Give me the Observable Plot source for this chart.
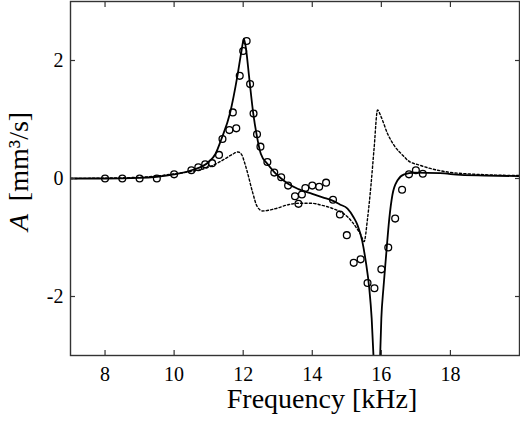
<!DOCTYPE html>
<html>
<head>
<meta charset="utf-8">
<script src="https://cdn.jsdelivr.net/npm/d3@7"></script>
<script src="https://cdn.jsdelivr.net/npm/@observablehq/plot@0.6"></script>
<style>
  html, body { margin: 0; padding: 0; background: #fff; }
</style>
</head>
<body>
<div id="chart"></div>
<script>
// Measured points (circles)
const measFreq = [8.0, 8.5, 9.0, 9.5, 10.0, 10.5, 10.7, 10.9, 11.1, 11.3, 11.4, 11.6, 11.7, 11.8, 11.9, 12.0, 12.1, 12.2, 12.3, 12.4, 12.5, 12.7, 12.9, 13.1, 13.3, 13.5, 13.6, 13.7, 13.8, 14.0, 14.2, 14.4, 14.6, 14.8, 15.0, 15.2, 15.4, 15.6, 15.8, 16.0, 16.2, 16.4, 16.6, 16.8, 17.0, 17.2];
const measA    = [0.0, 0.0, 0.0, 0.0, 0.07, 0.14, 0.19, 0.24, 0.26, 0.40, 0.67, 0.82, 1.12, 0.85, 1.74, 2.16, 2.33, 1.60, 1.10, 0.75, 0.54, 0.28, 0.10, 0.02, -0.12, -0.30, -0.43, -0.27, -0.16, -0.12, -0.14, -0.07, -0.36, -0.61, -0.96, -1.43, -1.37, -1.77, -1.86, -1.54, -1.17, -0.68, -0.19, 0.07, 0.14, 0.08];

// Model (solid line); NaN breaks the line where it leaves the frame
const solidFreq = [7.0, 8.0, 9.0, 9.5, 10.0, 10.5, 11.0, 11.2, 11.37, 11.62, 11.83, 11.95, 12.02, 12.09, 12.17, 12.29, 12.39, 12.51, 12.7, 12.9, 13.1, 13.3, 13.6, 14.0, 14.3, 14.6, 14.8, 15.02, 15.2, 15.31, 15.45, 15.55, 15.65, 15.72, 15.78, 15.87, 15.96, 16.0, 16.06, 16.13, 16.23, 16.32, 16.47, 16.66, 16.95, 17.7, 18.3, 19.0, 20.0];
const solidA    = [0.0, 0.0, 0.01, 0.03, 0.07, 0.14, 0.28, 0.42, 0.67, 1.11, 1.73, 2.16, 2.37, 2.16, 1.73, 1.11, 0.74, 0.42, 0.25, 0.11, 0.0, -0.09, -0.18, -0.26, -0.32, -0.38, -0.44, -0.51, -0.66, -0.79, -1.07, -1.41, -1.86, -2.37, -3.1, NaN, -3.1, -2.37, -1.86, -1.36, -0.68, -0.28, -0.03, 0.07, 0.10, 0.09, 0.06, 0.05, 0.04];

// Second model (dotted line)
const dotFreq = [7.0, 9.0, 9.9, 10.5, 10.77, 11.15, 11.49, 11.69, 11.85, 11.95, 12.05, 12.12, 12.27, 12.41, 12.56, 12.94, 13.33, 13.62, 14.0, 14.25, 14.6, 15.02, 15.26, 15.41, 15.5, 15.6, 15.7, 15.79, 15.89, 15.99, 16.18, 16.37, 16.66, 16.76, 17.14, 17.72, 17.92, 18.79, 20.0];
const dotA    = [0.0, 0.02, 0.07, 0.12, 0.15, 0.23, 0.34, 0.41, 0.45, 0.41, 0.25, 0.11, -0.23, -0.48, -0.55, -0.51, -0.44, -0.42, -0.42, -0.45, -0.51, -0.65, -0.82, -0.96, -1.07, -0.68, -0.11, 0.51, 1.16, 1.05, 0.76, 0.56, 0.37, 0.31, 0.22, 0.13, 0.11, 0.07, 0.05];

const xTicks = [8, 10, 12, 14, 16, 18];
const yTicks = [-2, 0, 2];
const xDomain = [7, 20];
const yDomain = [-3, 3];

const meas = measFreq.map((f, i) => ({f, a: measA[i]}));
const solid = solidFreq.map((f, i) => ({f, a: solidA[i]}));
const dotted = dotFreq.map((f, i) => ({f, a: dotA[i]}));

const serif = "'Liberation Serif', 'DejaVu Serif', serif";
const fmt = d => String(d);
const T = 5; // inward tick length

const chart = Plot.plot({
  width: 520,
  height: 421,
  marginLeft: 70,
  marginRight: 1,
  marginTop: 1,
  marginBottom: 66,
  style: {fontFamily: serif, fontSize: "20px", color: "#000", background: "#fff"},
  x: {domain: xDomain},
  y: {domain: yDomain},
  marks: [
    Plot.line(dotted, {x: "f", y: "a", stroke: "#000", strokeWidth: 1.4, strokeDasharray: "2.2,2.2", curve: "monotone-x", clip: true}),
    Plot.line(solid, {x: "f", y: "a", stroke: "#000", strokeWidth: 1.8, curve: "monotone-x", clip: true}),
    Plot.dot(meas, {x: "f", y: "a", r: 3.4, stroke: "#000", strokeWidth: 1.3, fill: "none"}),
    Plot.frame({stroke: "#333", strokeWidth: 1.4}),
    // inward ticks on all sides (outward ticks shifted inside the frame)
    Plot.axisX(xTicks, {anchor: "bottom", tickSize: T, dy: -T, fill: "none", label: null, stroke: "#333", strokeWidth: 1.2}),
    Plot.axisX(xTicks, {anchor: "top", tickSize: T, dy: T, fill: "none", label: null, stroke: "#333", strokeWidth: 1.2}),
    Plot.axisY(yTicks, {anchor: "left", tickSize: T, dx: T, fill: "none", label: null, stroke: "#333", strokeWidth: 1.2}),
    Plot.axisY(yTicks, {anchor: "right", tickSize: T, dx: -T, fill: "none", label: null, stroke: "#333", strokeWidth: 1.2}),
    // tick labels
    Plot.axisX(xTicks, {anchor: "bottom", tickSize: 0, tickPadding: 11, tickFormat: fmt, label: null, fontSize: 20}),
    Plot.axisY(yTicks, {anchor: "left", tickSize: 0, tickPadding: 7, tickFormat: fmt, label: null, fontSize: 20}),
    // axis titles
    Plot.text(["Frequency [kHz]"], {frameAnchor: "bottom", dx: 27, dy: 44, lineAnchor: "middle", textAnchor: "middle", fontSize: 28, fill: "#000"}),
    Plot.text(["A"], {frameAnchor: "left", rotate: -90, dx: -51, dy: 44, lineAnchor: "middle", textAnchor: "middle", fontSize: 28, fontStyle: "italic", fill: "#000"}),
    Plot.text(["[mm³/s]"], {frameAnchor: "left", rotate: -90, dx: -51, dy: -22, lineAnchor: "middle", textAnchor: "middle", fontSize: 28, fill: "#000"})
  ]
});
document.getElementById("chart").appendChild(chart);
</script>
</body>
</html>
